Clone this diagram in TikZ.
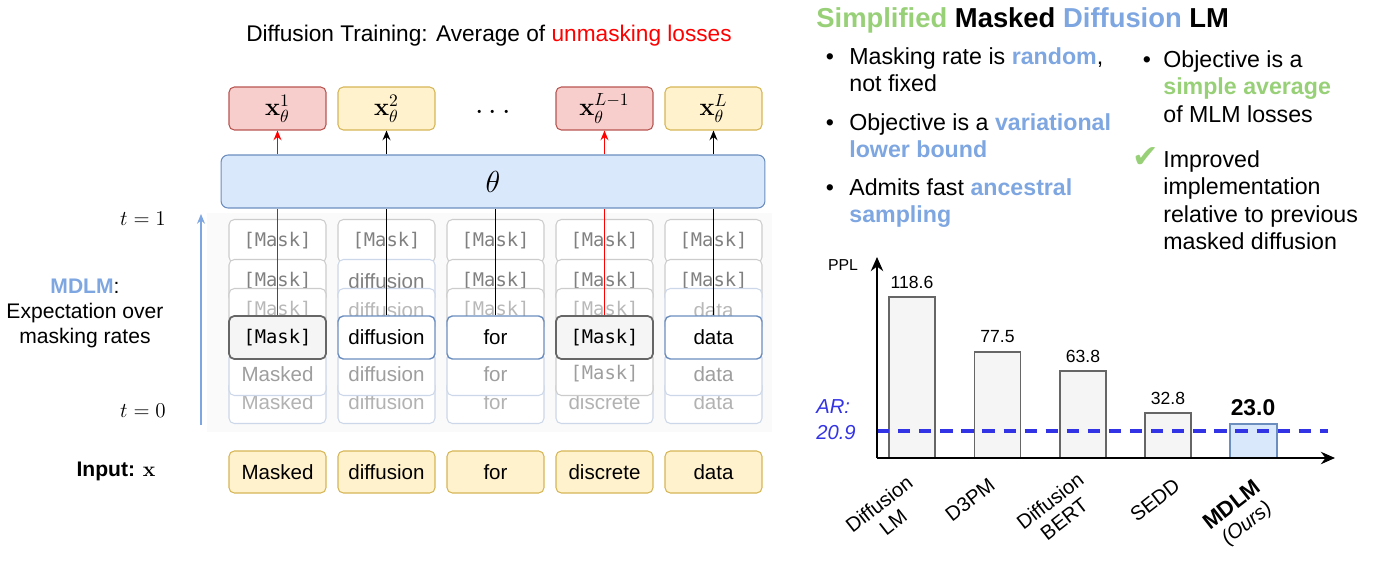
\documentclass[tikz,border=0pt]{standalone}
\usepackage[no-math]{fontspec}
\setmainfont{Liberation Sans}
\setmonofont{DejaVu Sans Mono}
\newfontfamily\symbolfont{DejaVu Sans}
\usepackage{amsmath,amssymb}
\usepackage{tikz}
\usetikzlibrary{
  positioning,
  arrows.meta,
  calc
}
\definecolor{ThetaFill}{RGB}{218,232,252}
\definecolor{ThetaBorder}{RGB}{108,142,191}
\definecolor{RedFill}{RGB}{248,206,204}
\definecolor{RedBorder}{RGB}{184,84,80}
\definecolor{YelFill}{RGB}{255,242,204}
\definecolor{YelBorder}{RGB}{214,182,86}
\definecolor{MaskFill}{RGB}{245,245,245}
\definecolor{MaskBorder}{RGB}{102,102,102}
\definecolor{LossRed}{RGB}{255,0,0}
\definecolor{DiffBlue}{RGB}{126,166,224}
\definecolor{SimpGreen}{RGB}{151,208,119}
\definecolor{ARBlue}{RGB}{51,51,230}
\tikzset{
  % Shared token box
  token/.style={
    rectangle,
    rounded corners=3pt,
    minimum width=1.94cm,
    minimum height=0.86cm,
    inner sep=0pt,
    line width=0.6pt,
    font=\fontsize{11.7}{14}\selectfont
  },
  % Sampled row: masked and clean tokens
  masktok/.style={token, draw=MaskBorder, fill=MaskFill, line width=1pt, font=\ttfamily\fontsize{10.7}{13}\selectfont},
  wordtok/.style={token, draw=ThetaBorder, fill=white, line width=0.8pt},
  % Faded rows (other masking rates)
  fadem/.style={token, draw=black!20, fill=white, text=black!#1, font=\ttfamily\fontsize{10.7}{13}\selectfont},
  fadew/.style={token, draw=ThetaBorder!35, fill=white, text=black!#1},
  % Input and output tokens
  intok/.style={token, minimum height=0.84cm, draw=YelBorder, fill=YelFill},
  outred/.style={token, draw=RedBorder, fill=RedFill, font=\fontsize{14}{16}\selectfont},
  outyel/.style={token, draw=YelBorder, fill=YelFill, font=\fontsize{14}{16}\selectfont},
  % Denoiser
  thetabox/.style={
    rectangle,
    rounded corners=4pt,
    draw=ThetaBorder,
    fill=ThetaFill,
    line width=0.6pt,
    minimum width=10.88cm,
    minimum height=1.06cm,
    font=\fontsize{16}{18}\selectfont
  },
  % Connectors
  feed/.style={line width=1pt},
  lossfeed/.style={line width=1pt, draw=LossRed},
  pred/.style={line width=1pt, -{Stealth[length=5.5pt,width=4.5pt]}},
  % Text styles
  caption/.style={font=\fontsize{12.9}{15}\selectfont},
  sidetext/.style={font=\fontsize{12}{14.2}\selectfont, align=center},
  head/.style={font=\bfseries\fontsize{15.6}{18}\selectfont},
  itemtext/.style={font=\fontsize{13.2}{15.7}\selectfont, align=left, inner sep=0pt},
  % Bar chart
  axis/.style={line width=1.6pt, -{Stealth[length=8pt,width=7pt]}},
  bar/.style={draw=MaskBorder, fill=MaskFill, line width=0.6pt},
  mbar/.style={draw=ThetaBorder, fill=ThetaFill, line width=1.2pt},
  val/.style={font=\fontsize{10}{12}\selectfont},
  xname/.style={rotate=38, align=center, font=\fontsize{11.5}{13}\selectfont}
}
\begin{document}
\begin{tikzpicture}[x=0.02cm, y=-0.02cm]
  \useasboundingbox (0,0) rectangle (1380,578);
  % ---------------- left: training ----------------
  \node[caption] (cap) at (489,36) {Diffusion Training: Average of \textcolor{LossRed}{unmasking losses}};
  \fill[black!2] (207,213) rectangle (772,432);
  % Denoiser and predictions
  \node[thetabox] (theta) at (493,181.5) {$\theta$};
  \foreach \c/\s/\e in {1/outred/1,2/outyel/2,4/outred/{L-1},5/outyel/L} {
    \node[\s] (out\c) at ({168.5+109*\c},108.5) {$\mathbf{x}_\theta^{\e}$};
  }
  \node[font=\fontsize{16}{18}\selectfont] (dots) at (495.5,113) {$\cdots$};
  \foreach \c/\col in {1/LossRed,2/black,4/LossRed,5/black} {
    \draw[pred, draw=\col] (out\c.south |- theta.north) -- (out\c.south);
  }
  % Faded rows, bottom ones first
  \foreach \c/\k/\w in {1/w/Masked,2/w/diffusion,3/w/for,4/w/discrete,5/w/data} {
    \node[fade\k=30] (rsix\c) at ({168.5+109*\c},402) {\w};
  }
  \foreach \c/\k/\w in {1/w/Masked,2/w/diffusion,3/w/for,4/m/{[Mask]},5/w/data} {
    \node[fade\k=38] (rfive\c) at ({168.5+109*\c},374) {\w};
  }
  \foreach \c in {1,...,5} {
    \node[fadem=50] (rone\c) at ({168.5+109*\c},241) {[Mask]};
  }
  \foreach \c/\k/\w in {1/m/{[Mask]},2/w/diffusion,3/m/{[Mask]},4/m/{[Mask]},5/m/{[Mask]}} {
    \node[fade\k=50] (rtwo\c) at ({168.5+109*\c},281) {\w};
  }
  \foreach \c/\k/\w in {1/m/{[Mask]},2/w/diffusion,3/m/{[Mask]},4/m/{[Mask]},5/w/data} {
    \node[fade\k=28] (rthree\c) at ({168.5+109*\c},310) {\w};
  }
  % Sampled row
  \foreach \c/\s/\w in {1/masktok/{[Mask]},2/wordtok/diffusion,3/wordtok/for,4/masktok/{[Mask]},5/wordtok/data} {
    \node[\s] (tok\c) at ({168.5+109*\c},337.5) {\w};
  }
  \foreach \c in {2,3,5} {
    \draw[feed] (tok\c.north) -- (tok\c.north |- theta.south);
  }
  \foreach \c in {1,4} {
    \draw[lossfeed] (tok\c.north) -- (tok\c.north |- theta.south);
  }
  % Input row
  \foreach \c/\w in {1/Masked,2/diffusion,3/for,4/discrete,5/data} {
    \node[intok] (in\c) at ({168.5+109*\c},472) {\w};
  }
  % Masking rate axis
  \coordinate (rate0) at (201,425);
  \coordinate (rate1) at (201,214);
  \draw[pred, draw=DiffBlue, line width=1pt] (rate0) -- (rate1);
  \node[font=\fontsize{12.5}{14}\selectfont] (tone) at (143,219) {$t=1$};
  \node[font=\fontsize{12.5}{14}\selectfont] (tzero) at (143,411) {$t=0$};
  \node[sidetext] (mdlm) at (85,313) {\textbf{\textcolor{DiffBlue}{MDLM}}:\\Expectation over\\masking rates};
  \node[font=\bfseries\fontsize{12}{14}\selectfont] (input) at (116,471) {Input: $\mathbf{x}$};
  % ---------------- right: summary ----------------
  \node[head, anchor=base west, inner sep=0pt] (title) at (816,28) {\textcolor{SimpGreen}{Simplified} Masked \textcolor{DiffBlue}{Diffusion} LM};
  \foreach \n/\x/\y in {1/830/64,2/830/130,3/830/195,4/1147/67} {
    \node[itemtext, anchor=base] (dot\n) at (\x,\y) {\textbullet};
  }
  \node[itemtext, anchor=north west] (item1) at (849,47) {Masking rate is \textcolor{DiffBlue}{\bfseries random},\\not fixed};
  \node[itemtext, anchor=north west] (item2) at (849,113) {Objective is a \textcolor{DiffBlue}{\bfseries variational}\\\textcolor{DiffBlue}{\bfseries lower bound}};
  \node[itemtext, anchor=north west] (item3) at (849,178) {Admits fast \textcolor{DiffBlue}{\bfseries ancestral}\\\textcolor{DiffBlue}{\bfseries sampling}};
  \node[itemtext, anchor=north west] (item4) at (1163,50) {Objective is a\\\textcolor{SimpGreen}{\bfseries simple average}\\of MLM losses};
  \node[text=SimpGreen, font=\symbolfont\fontsize{18}{20}\selectfont] (check) at (1146,158) {✔};
  \node[itemtext, anchor=north west] (item5) at (1163,150) {Improved\\implementation\\relative to previous\\masked diffusion};
  % ---------------- bar chart ----------------
  \coordinate (origin) at (877,458);
  \coordinate (ytip) at (877,257);
  \coordinate (xtip) at (1335,458);
  \foreach \n/\x/\t/\v in {1/912/297/118.6,2/997.5/352/77.5,3/1083/371/63.8,4/1168/413/32.8} {
    \draw[bar] (\x-23,458) rectangle (\x+23,\t);
    \node[val] (val\n) at (\x,\t-15) {\v};
  }
  \draw[mbar] (1230,458) rectangle (1277,424);
  \node[val, font=\bfseries\fontsize{13}{15}\selectfont] (val5) at (1253,408) {23.0};
  \coordinate (ar0) at (877,431);
  \coordinate (ar1) at (1328,431);
  \draw[ARBlue, line width=2pt, dash pattern=on 7pt off 5pt] (ar0) -- (ar1);
  \draw[axis] (origin) -- (ytip);
  \draw[axis] (origin) -- (xtip);
  \node[font=\fontsize{9}{11}\selectfont] (ppl) at (843,265) {PPL};
  \node[anchor=west, align=left, text=ARBlue, font=\itshape\fontsize{11.5}{14.7}\selectfont, inner sep=0pt] (ar) at (816,420) {AR:\\20.9};
  \node[xname] (n1) at (886,513) {Diffusion\\LM};
  \node[xname] (n2) at (970,500) {D3PM};
  \node[xname] (n3) at (1057,510) {Diffusion\\BERT};
  \node[xname] (n4) at (1155,500) {SEDD};
  \node[xname] (n5) at (1240,515) {\textbf{\fontsize{12.5}{13}\selectfont MDLM}\\\textit{(Ours)}};
\end{tikzpicture}
\end{document}
